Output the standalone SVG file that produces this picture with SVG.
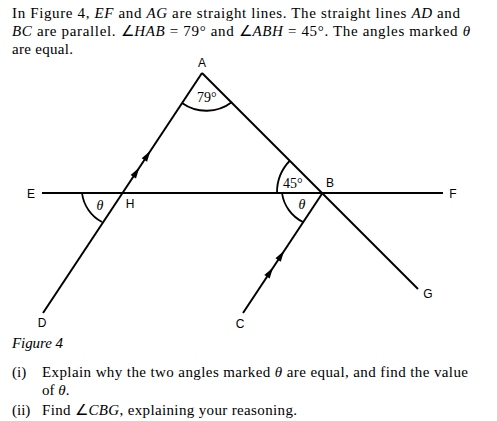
<svg xmlns="http://www.w3.org/2000/svg" width="497" height="421" viewBox="0 0 497 421">
<style>
.ln{stroke:#000;stroke-width:2;fill:none;stroke-linecap:butt}
.arc{stroke:#000;stroke-width:1.8;fill:none}
.lbl{font-family:"Liberation Sans",Arial,sans-serif;font-size:12px;fill:#000;text-anchor:middle}
.tx{font-family:"Liberation Serif","Times New Roman",serif;font-size:15px;fill:#000}
.ang{font-family:"Liberation Serif","Times New Roman",serif;font-size:14px;fill:#000}
.it{font-style:italic}
</style>
<defs>
<path id="ah" d="M5,0 L-6,-3.2 L-6,3.2 Z" fill="#000"/>
</defs>
<rect width="497" height="421" fill="#fff"/>
<g id="intro">
<text class="tx" x="12" y="17.5" textLength="448">In Figure 4, <tspan class="it">EF</tspan> and <tspan class="it">AG</tspan> are straight lines. The straight lines <tspan class="it">AD</tspan> and</text>
<text class="tx" x="12" y="35.5" textLength="458"><tspan class="it">BC</tspan> are parallel. ∠<tspan class="it">HAB</tspan> = 79° and ∠<tspan class="it">ABH</tspan> = 45°. The angles marked <tspan class="it">θ</tspan></text>
<text class="tx" x="12" y="53.5" textLength="61">are equal.</text>
</g>
<g id="connectors">
<line class="ln" x1="42" y1="193" x2="443" y2="193"/>
<line class="ln" x1="202" y1="73" x2="43" y2="313"/>
<line class="ln" x1="202" y1="73" x2="418" y2="289"/>
<line class="ln" x1="322.5" y1="193" x2="243" y2="313"/>
<use href="#ah" transform="translate(136.6,171.7) rotate(-56.5)"/>
<use href="#ah" transform="translate(147.7,155) rotate(-56.5)"/>
<use href="#ah" transform="translate(270.3,271.7) rotate(-56.5)"/>
<use href="#ah" transform="translate(281.4,255) rotate(-56.5)"/>
</g>
<g id="angles">
<path class="arc" d="M182,103 A42,42 0 0 0 232,102"/>
<text class="ang" x="197" y="101.5">79°</text>
<path class="arc" d="M277,193 A46,46 0 0 1 290,160.5"/>
<text class="ang" x="283" y="187.5">45°</text>
<path class="arc" d="M282,193 A38,38 0 0 0 303,222"/>
<text class="ang it" x="302" y="208.5" text-anchor="middle">θ</text>
<path class="arc" d="M82,193 A38,38 0 0 0 102,222"/>
<text class="ang it" x="100" y="210" text-anchor="middle">θ</text>
</g>
<g id="node-A"><text class="lbl" x="202" y="66.5">A</text></g>
<g id="node-B"><text class="lbl" x="330" y="186.5">B</text></g>
<g id="node-C"><text class="lbl" x="240" y="327.5">C</text></g>
<g id="node-D"><text class="lbl" x="42" y="326.5">D</text></g>
<g id="node-E"><text class="lbl" x="31" y="197.5">E</text></g>
<g id="node-F"><text class="lbl" x="453" y="197.5">F</text></g>
<g id="node-G"><text class="lbl" x="428" y="297.5">G</text></g>
<g id="node-H"><text class="lbl" x="130" y="207.5">H</text></g>
<g id="caption">
<text class="tx it" x="12" y="348" font-size="13.5" textLength="51">Figure 4</text>
<text class="tx" x="12" y="377">(i)</text>
<text class="tx" x="42" y="377" textLength="426">Explain why the two angles marked <tspan class="it">θ</tspan> are equal, and find the value</text>
<text class="tx" x="42" y="394.5">of <tspan class="it">θ</tspan>.</text>
<text class="tx" x="12" y="415">(ii)</text>
<text class="tx" x="42" y="415" textLength="255">Find ∠<tspan class="it">CBG</tspan>, explaining your reasoning.</text>
</g>
</svg>
